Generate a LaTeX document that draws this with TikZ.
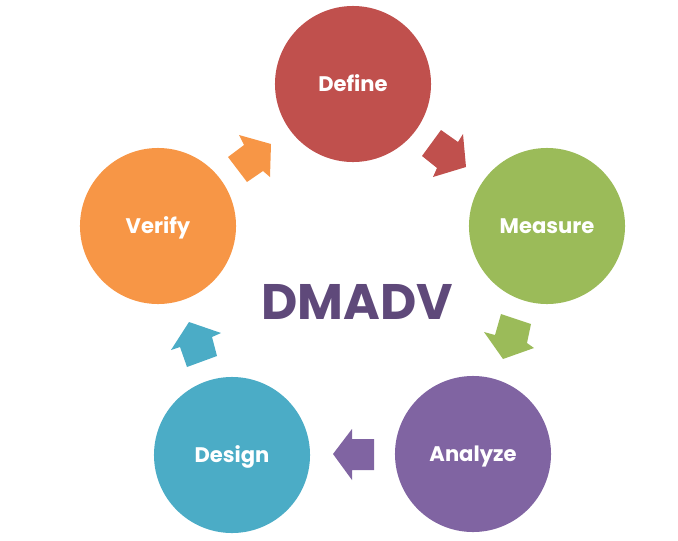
\documentclass[tikz,border=0pt]{standalone}
\usepackage{fontspec}
\setmainfont{Poppins}
\usetikzlibrary{positioning}
\definecolor{definered}{HTML}{C0504D}
\definecolor{measuregreen}{HTML}{9BBB59}
\definecolor{analyzepurple}{HTML}{8064A2}
\definecolor{designteal}{HTML}{4BACC6}
\definecolor{verifyorange}{HTML}{F79646}
\definecolor{titlepurple}{HTML}{5F497A}
\tikzset{
  phase/.style={circle,minimum size=3.9cm,inner sep=0pt,text=white,text height=0.45cm,text depth=0.1cm,font=\fontsize{15}{18}\selectfont\bfseries},
}
\begin{document}
\begin{tikzpicture}[x=0.025cm,y=-0.025cm]
\useasboundingbox (0,0) rectangle (678,540);

\node[phase,fill=definered] (define) at (353,84) {Define};
\node[phase,fill=measuregreen] (measure) at (547,226) {Measure};
\node[phase,fill=analyzepurple] (analyze) at (473,454) {Analyze};
\node[phase,fill=designteal] (design) at (232,455) {Design};
\node[phase,fill=verifyorange] (verify) at (158,226) {Verify};
\node[text=titlepurple,font=\fontsize{35.5}{44}\selectfont\bfseries] (title) at (357,302) {DMADV};

\fill[definered] (441,130) -- (458,142) -- (463,134) -- (466,167) -- (433,177) -- (437,168) -- (422,156) -- cycle;
\fill[measuregreen] (501,314) -- (531,324) -- (527,343) -- (534,348) -- (503,359) -- (484,332) -- (495,335) -- cycle;
\fill[analyzepurple] (333,454) -- (352,429) -- (352,439) -- (374,439) -- (374,470) -- (352,470) -- (352,480) -- cycle;
\fill[designteal] (189,322) -- (221,333) -- (212,337) -- (217,356) -- (187,367) -- (180,347) -- (171,350) -- cycle;
\fill[verifyorange] (239,135) -- (271,144) -- (270,177) -- (263,171) -- (247,182) -- (228,157) -- (244,145) -- cycle;

\end{tikzpicture}
\end{document}
